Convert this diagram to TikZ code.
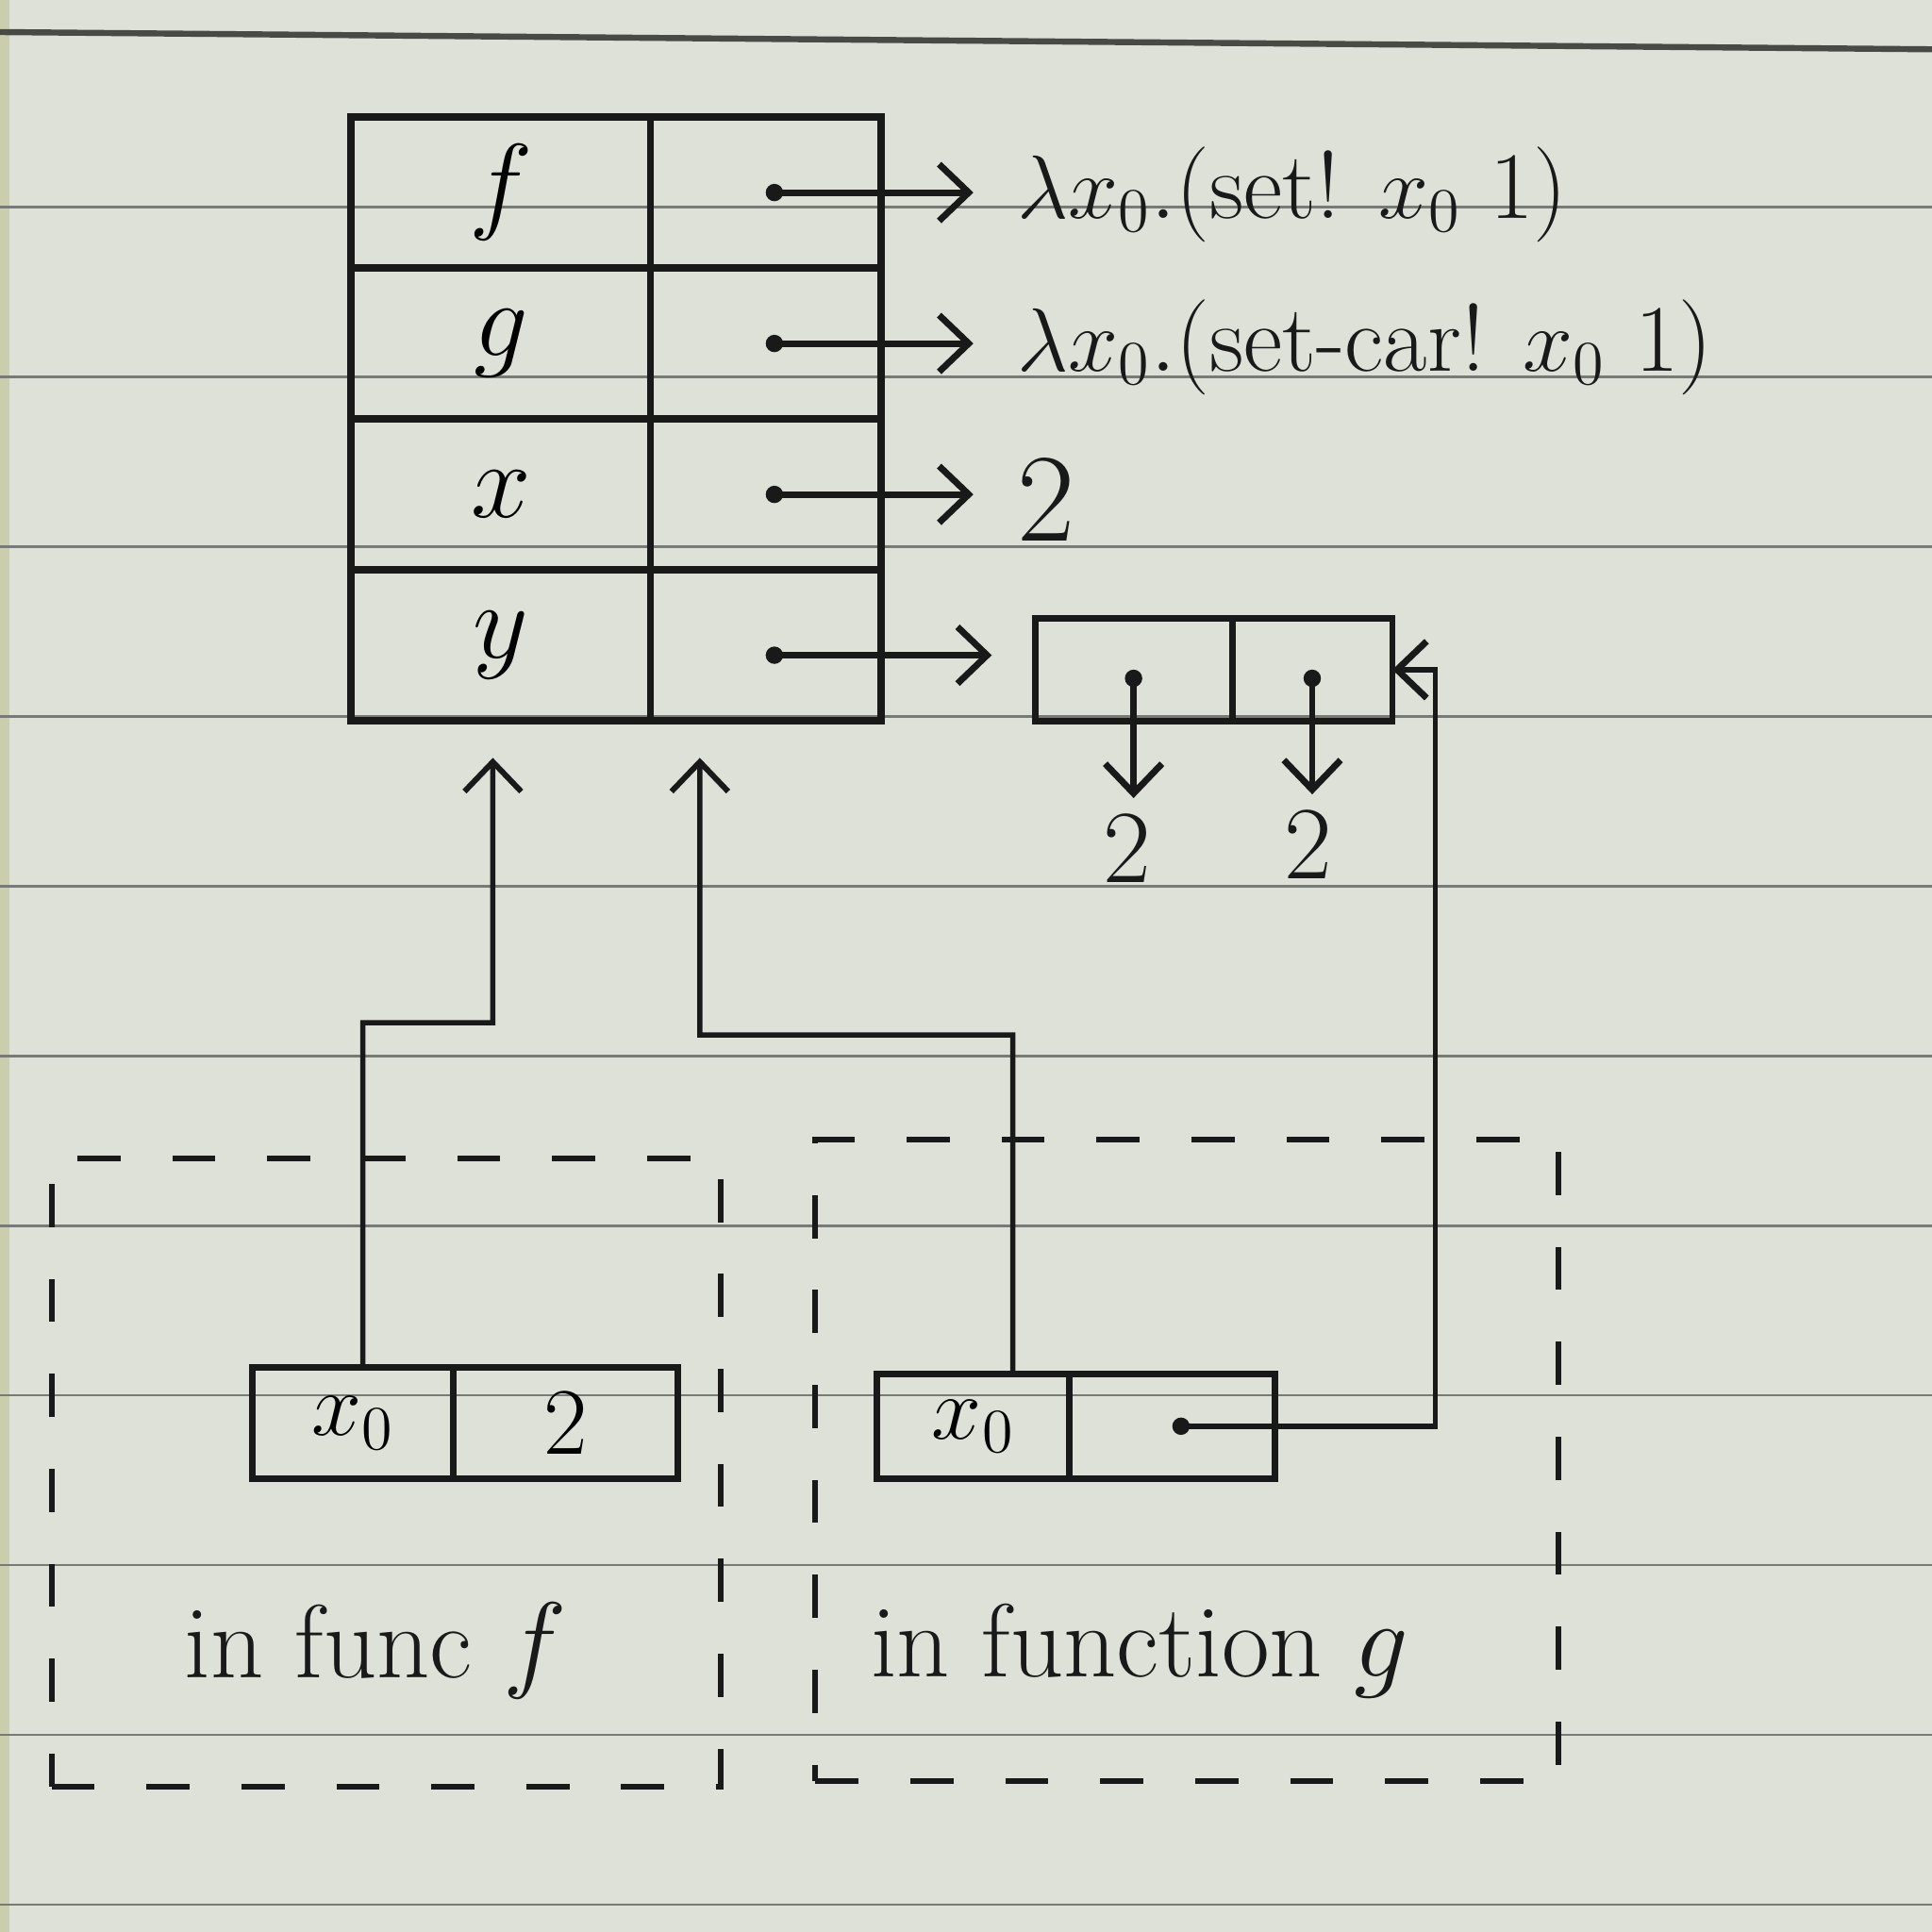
\documentclass[tikz,border=0pt]{standalone}
\usetikzlibrary{arrows.meta,calc}
\definecolor{paper}{RGB}{221,225,216}
\definecolor{rulec}{RGB}{120,123,117}
\definecolor{ink}{RGB}{25,25,25}
\newcommand{\labfont}{\fontsize{40}{40}\selectfont}
\newcommand{\txtfont}{\fontsize{22}{24}\selectfont}
\newcommand{\numfont}{\fontsize{29}{31}\selectfont}
\newcommand{\smallnum}{\fontsize{24}{26}\selectfont}
\newcommand{\handfont}{\fontsize{24}{26}\selectfont}
\begin{document}
\begin{tikzpicture}[x=0.01cm,y=-0.01cm,
  cell/.style={draw=ink, line width=1.6pt, inner sep=0pt, outer sep=0pt, font=\labfont},
  pcell/.style={draw=ink, line width=1.5pt, inner sep=0pt, outer sep=0pt, font=\txtfont},
  valtext/.style={anchor=west, inner xsep=0.35cm, inner ysep=2pt, font=\txtfont, text=ink},
  ptr/.style={draw=ink, line width=1.5pt, {Circle[length=1.4mm]}-{Straight Barb[length=2.4mm,width=4.6mm,line width=1.5pt]}},
  link/.style={draw=ink, line width=1.2pt, -{Straight Barb[length=2.4mm,width=4.6mm,line width=1.3pt]}},
  frame/.style={draw=ink, line width=1.3pt, dash pattern=on 0.35cm off 0.42cm, inner sep=0pt, outer sep=0pt},
  hand/.style={font=\handfont, text=ink}]
\useasboundingbox (0,0) rectangle (1568,1568);
\fill[paper] (0,0) rectangle (1568,1568);
\fill[paper!80!olive] (0,0) rectangle (8,1568);
\draw[rulec!60!black, line width=1.4pt] (0,26) -- (1568,40);
\foreach \k in {0,...,10}
  \draw[rulec, line width=0.5pt] (0,{168+137.8*\k}) -- (1568,{168+137.8*\k});

% environment table
\node[cell, minimum width=2.43cm, minimum height=1.225cm] (fname) at (406.5,156.25) {$f$};
\node[cell, minimum width=1.87cm, minimum height=1.225cm] (fval) at (621.5,156.25) {};
\node[cell, minimum width=2.43cm, minimum height=1.225cm] (gname) at (406.5,278.75) {$g$};
\node[cell, minimum width=1.87cm, minimum height=1.225cm] (gval) at (621.5,278.75) {};
\node[cell, minimum width=2.43cm, minimum height=1.225cm] (xname) at (406.5,401.25) {$x$};
\node[cell, minimum width=1.87cm, minimum height=1.225cm] (xval) at (621.5,401.25) {};
\node[cell, minimum width=2.43cm, minimum height=1.225cm] (yname) at (406.5,523.75) {$y$};
\node[cell, minimum width=1.87cm, minimum height=1.225cm] (yval) at (621.5,523.75) {};

% values
\node[valtext] (lf) at (790,158) {$\lambda x_0.$(set! $x_0$ 1)};
\node[valtext] (lg) at (790,282) {$\lambda x_0.$(set-car! $x_0$ 1)};
\node[valtext, font=\numfont] (xv) at (790,405) {2};

% pair for y
\node[pcell, minimum width=1.6cm, minimum height=0.83cm] (ycar) at (920,543.5) {};
\node[pcell, minimum width=1.3cm, minimum height=0.83cm] (ycdr) at (1065,543.5) {};
\node[font=\smallnum, text=ink] (ca) at (915,688) {2};
\node[font=\smallnum, text=ink] (cd) at (1062,685) {2};

\draw[ptr] (fval.center) -- (fval.center -| lf.west);
\draw[ptr] (gval.center) -- (gval.center -| lg.west);
\draw[ptr] (xval.center) -- (xval.center -| xv.west);
\draw[ptr] ([yshift=-0.08cm]yval.center) -- ([xshift=-0.35cm,yshift=-0.08cm]ycar.west |- yval.center);
\draw[ptr] (ycar.center) -- (ycar.center |- ca.north);
\draw[ptr] (ycdr.center) -- (ycdr.center |- cd.north);

% frames
\node[frame, minimum width=5.43cm, minimum height=5.1cm] (ff) at (313.5,1195) {};
\node[frame, minimum width=6.03cm, minimum height=5.2cm] (fg) at (963.5,1185) {};
\node[hand] (lff) at (305,1340) {in func $f$};
\node[hand] (lfg) at (925,1340) {in function $g$};

% pair in frame f
\node[pcell, minimum width=1.63cm, minimum height=0.9cm, font=\txtfont] (fx0) at (286.5,1155) {$x_0$};
\node[pcell, minimum width=1.82cm, minimum height=0.9cm, font=\txtfont] (f2) at (459,1155) {2};

% pair in frame g
\node[pcell, minimum width=1.56cm, minimum height=0.85cm, font=\txtfont] (gx0) at (790,1157.5) {$x_0$};
\node[pcell, minimum width=1.67cm, minimum height=0.85cm] (gv) at (951.5,1157.5) {};

% long connectors
\coordinate (fa) at (400,830);
\draw[link] ([xshift=0.08cm]fx0.north) |- (fa) -- ([xshift=-0.065cm,yshift=-0.3cm]yname.south);
\coordinate (ga) at (568,840);
\draw[link] ([xshift=0.32cm]gx0.north) |- (ga) -- ([xshift=-0.535cm,yshift=-0.3cm]yval.south);
\coordinate (gc) at (1165,1157.5);
\draw[ptr, line width=1.2pt] (gv.center) -- (gc) |- (ycdr.east);
\end{tikzpicture}
\end{document}
